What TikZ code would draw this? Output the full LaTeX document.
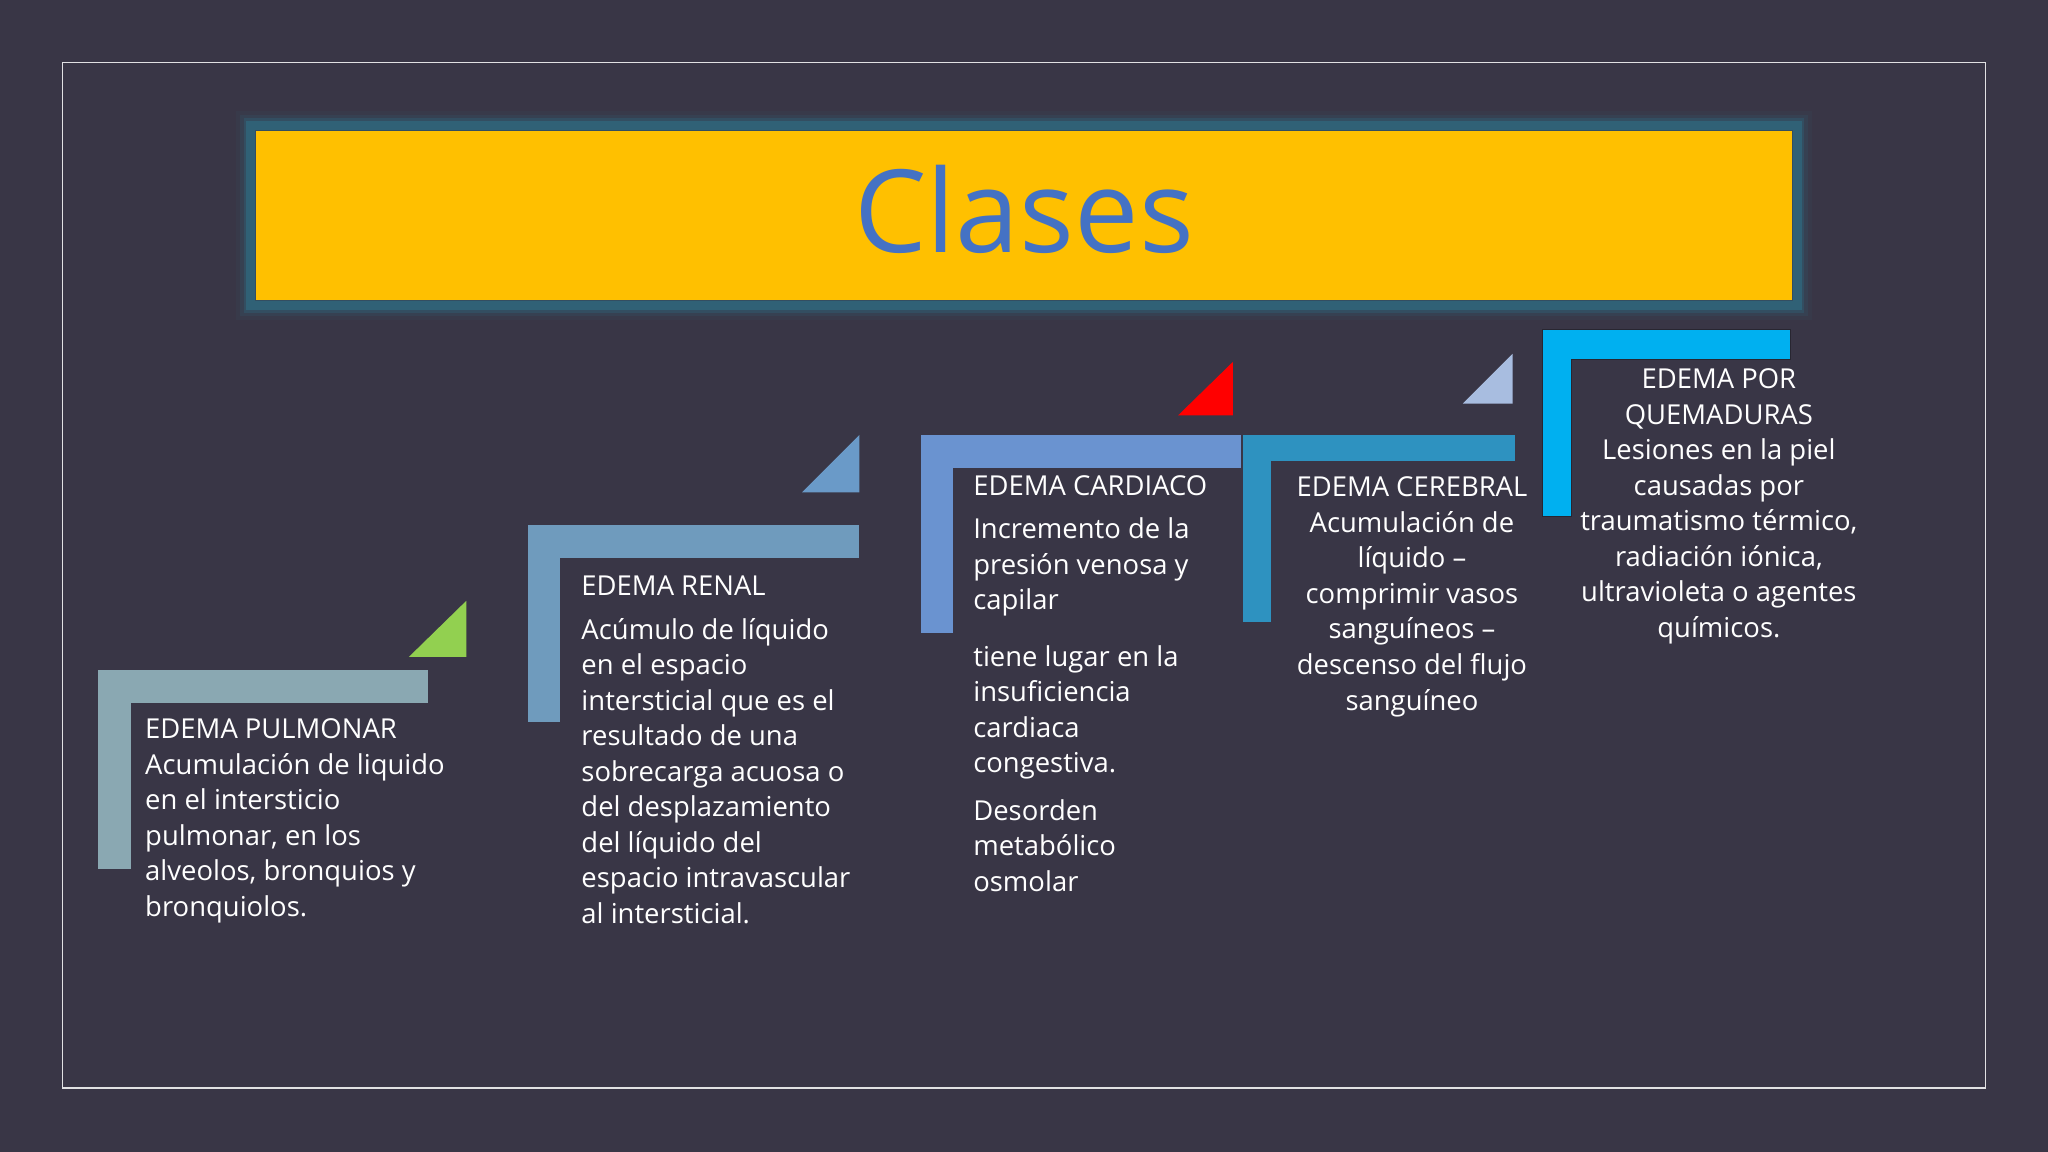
\documentclass[tikz,border=0pt]{standalone}
\usepackage{fontspec}
\setmainfont{Open Sans}
\definecolor{bg}{HTML}{393646}
\definecolor{ttl}{HTML}{FFC000}
\definecolor{glow}{HTML}{2E6E85}
\definecolor{ttxt}{HTML}{4472C4}
\definecolor{cA}{HTML}{8AA8B2}
\definecolor{cB}{HTML}{6F9BBD}
\definecolor{cC}{HTML}{6A93D0}
\definecolor{cD}{HTML}{2E92C0}
\definecolor{cE}{HTML}{00B0F0}
\definecolor{tA}{HTML}{92D050}
\definecolor{tB}{HTML}{6A9AC8}
\definecolor{tD}{HTML}{A8BDE0}
\tikzset{
  body/.style={text=white,inner sep=0pt,font=\fontsize{21}{27.2}\selectfont},
  lft/.style={body,anchor=north west,align=left},
  ctr/.style={body,anchor=north,align=center},
}
\begin{document}
\begin{tikzpicture}[x=1pt,y=-1pt]
\fill[bg] (0,0) rectangle (1568,882);
\useasboundingbox (0,0) rectangle (1568,882);
\draw[white!85!bg,line width=0.8pt] (48,48) rectangle (1520,833);
% title
\foreach \w/\o in {22/0.08,16/0.15,11/0.3,7/0.6}{\draw[glow,line width=\w pt,opacity=\o] (192,96) rectangle (1376,234);}
\fill[ttl] (196,100) rectangle (1372,230);
\node[text=ttxt,font=\fontsize{88}{90}\selectfont] (title) at (784,160) {Clases};
% brackets
\fill[cA] (75,513) rectangle (328,538); \fill[cA] (75,513) rectangle (100,665);
\fill[tA] (313,503) -- (357,503) -- (357,460) -- cycle;
\fill[cB] (404,402) rectangle (658,427); \fill[cB] (404,402) rectangle (429,553);
\fill[tB] (614,377) -- (658,377) -- (658,333) -- cycle;
\fill[cC] (705,333) rectangle (950,358); \fill[cC] (705,333) rectangle (730,485);
\fill[red] (902,318) -- (944,318) -- (944,277) -- cycle;
\fill[cD] (952,333) rectangle (1160,353); \fill[cD] (952,333) rectangle (973,476);
\fill[tD] (1120,309) -- (1158,309) -- (1158,271) -- cycle;
\filldraw[fill=cE,draw=bg!70!black] (1181,252) -- (1371,252) -- (1371,275) -- (1203,275) -- (1203,395) -- (1181,395) -- cycle;
% texts
\node[lft] (pul) at (111,550) {EDEMA PULMONAR\\Acumulación de liquido\\en el intersticio\\pulmonar, en los\\alveolos, bronquios y\\bronquiolos.};
\node[lft] (ren) at (445,441) {EDEMA RENAL\\[6pt]Acúmulo de líquido\\en el espacio\\intersticial que es el\\resultado de una\\sobrecarga acuosa o\\del desplazamiento\\del líquido del\\espacio intravascular\\al intersticial.};
\node[lft] (car1) at (745,364) {EDEMA CARDIACO\\[6pt]Incremento de la\\presión venosa y\\capilar};
\node[lft] (car2) at (745,494) {tiene lugar en la\\insuficiencia\\cardiaca\\congestiva.};
\node[lft] (car3) at (745,612) {Desorden\\metabólico\\osmolar};
\node[ctr] (cer) at (1081,365) {EDEMA CEREBRAL\\Acumulación de\\líquido –\\comprimir vasos\\sanguíneos –\\descenso del flujo\\sanguíneo};
\node[ctr] (que) at (1316,282) {EDEMA POR\\QUEMADURAS\\Lesiones en la piel\\causadas por\\traumatismo térmico,\\radiación iónica,\\ultravioleta o agentes\\químicos.};
\end{tikzpicture}
\end{document}
